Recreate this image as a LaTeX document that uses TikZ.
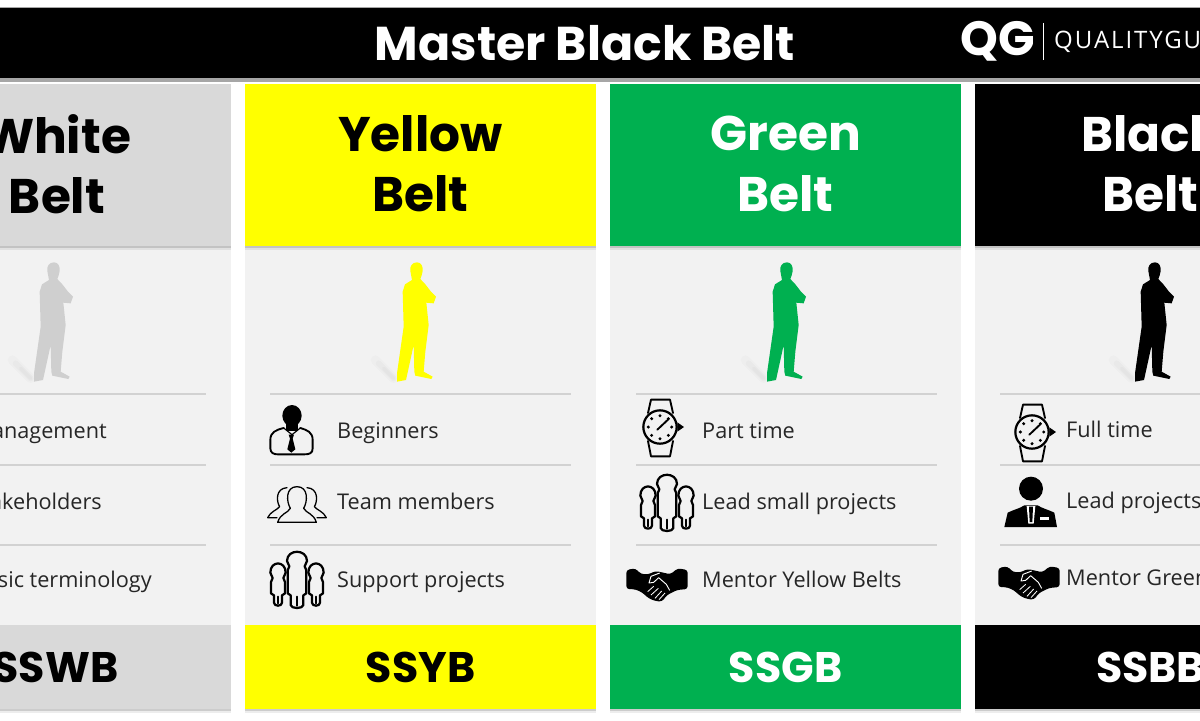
\documentclass[tikz,border=0pt]{standalone}
\usepackage{fontspec}
\setmainfont{Open Sans}
\newfontfamily\headfont{Poppins}
\newfontfamily\logofont[LetterSpace=8]{Open Sans}
\usepackage{xcolor}
\usetikzlibrary{shadows}
\definecolor{beltwhite}{HTML}{D9D9D9}
\definecolor{beltyellow}{HTML}{FFFF00}
\definecolor{beltgreen}{HTML}{00B050}
\definecolor{panel}{HTML}{F2F2F2}
\definecolor{rulegray}{HTML}{D2D2D2}
\definecolor{manwhite}{HTML}{CFCFCF}
\definecolor{bodytext}{HTML}{262626}

\begin{document}
\begin{tikzpicture}[x=0.03cm,y=-0.03cm]

\tikzstyle{softshadow}=[drop shadow={shadow xshift=0pt,shadow yshift=-3.5pt,opacity=.14},
  drop shadow={shadow xshift=0pt,shadow yshift=-1.6pt,opacity=.3}]
\tikzstyle{headbox}=[minimum width=10.53cm,minimum height=4.86cm,inner sep=0,softshadow]
\tikzstyle{headtext}=[inner sep=0,align=center,font=\headfont\bfseries\fontsize{41.5}{51.5}\selectfont]
\tikzstyle{footbox}=[minimum width=10.53cm,minimum height=2.52cm,inner sep=0,
  font=\headfont\bfseries\fontsize{36.5}{38}\selectfont,softshadow]
\tikzstyle{bodybox}=[fill=panel,minimum width=10.53cm,minimum height=11.4cm,inner sep=0]
\tikzstyle{rowtext}=[text=bodytext,inner sep=0,font=\fontsize{18.5}{22}\selectfont]
\tikzstyle{divider}=[rulegray,line width=1.4pt]
\tikzstyle{iconline}=[line width=1.6pt,line join=round,line cap=round]

\def\figman#1#2{\begin{scope}[shift={(#1,275)},scale=1/3]
  \draw[black,opacity=.015,line width=8pt,line cap=round] (-125,255) -- (-70,310);
  \draw[black,opacity=.02,line width=5pt,line cap=round] (-115,265) -- (-70,310);
  \draw[black,opacity=.02,line width=3pt,line cap=round] (-100,280) -- (-70,310);
  \fill[#2] (0,-38) .. controls (14,-38) and (18,-24) .. (17,-12) .. controls (16,-2) and (12,6) .. (10,12)
    -- (25,28) -- (42,50) -- (57,65) -- (50,85) -- (28,83) -- (35,150) -- (25,230) -- (20,290)
    -- (47,305) -- (43,312) -- (-5,302) -- (-8,290) -- (-10,210) -- (-33,315) -- (-60,320)
    -- (-60,295) -- (-40,155) -- (-43,50) -- (-36,28) -- (-15,15) -- (-20,-12) .. controls (-22,-26) and (-15,-38) .. (0,-38);
\end{scope}}

\def\iconbeginner#1#2{\begin{scope}[shift={(#1,#2)},scale=1/3]
  \fill (3,-43) ellipse (29 and 32);
  \fill (-14,-25) rectangle (20,2);
  \draw[iconline] (-22,-6) .. controls (-45,0) and (-62,6) .. (-62,30) -- (-62,55) .. controls (-62,70) and (-50,73) .. (-40,73)
    -- (40,73) .. controls (55,73) and (65,70) .. (65,55) -- (65,30) .. controls (65,6) and (48,0) .. (28,-6);
  \draw[iconline,line width=1pt] (-22,-6) -- (3,14) -- (28,-6);
  \fill (-7,14) -- (9,14) -- (5,26) -- (13,58) -- (1,68) -- (-11,58) -- (-3,26) -- cycle;
\end{scope}}

\def\iconteam#1#2{\begin{scope}[shift={(#1,#2)},scale=1/3]
  \draw[iconline,line width=1.1pt] (-58,52) .. controls (-50,25) and (-28,25) .. (-20,10) .. controls (-32,-10) and (-35,-55) .. (0,-55)
    .. controls (35,-55) and (32,-10) .. (20,10) .. controls (28,25) and (50,25) .. (58,52) -- cycle;
  \draw[iconline,line width=1.1pt] (-60,38) -- (-88,38) .. controls (-80,20) and (-60,15) .. (-52,5) .. controls (-62,-10) and (-65,-50) .. (-30,-52);
  \draw[iconline,line width=1.1pt] (60,38) -- (88,38) .. controls (80,20) and (60,15) .. (52,5) .. controls (62,-10) and (65,-50) .. (30,-52);
\end{scope}}

\def\onemember#1#2#3#4{\draw[iconline,line width=1.9pt,fill=panel] (#1-#2,#3+28) .. controls (#1-#2,#3-9) and (#1+#2,#3-9) .. (#1+#2,#3+28)
    -- (#1+#2-7,#3+44) -- (#1+#2-2,#3+56) -- (#1+#2-2,40) -- (#1+#2-11,46) -- (#1+#2-11,#4-10) .. controls (#1+#2-11,#4+2) and (#1-#2+11,#4+2) .. (#1-#2+11,#4-10)
    -- (#1-#2+11,46) -- (#1-#2+2,40) -- (#1-#2+2,#3+56) -- (#1-#2+7,#3+44) -- cycle;
  \draw[iconline,line width=1.9pt] (#1,50) -- (#1,#4-8);}

\def\icongroup#1#2{\begin{scope}[shift={(#1,#2)},scale=1/3]
  \onemember{-57}{23}{-50}{78}
  \onemember{57}{23}{-50}{78}
  \onemember{0}{30}{-85}{85}
\end{scope}}

\def\iconwatch#1#2{\begin{scope}[shift={(#1,#2)},scale=1/3]
  \draw[iconline] (-36,-42) -- (-27,-82) -- (30,-82) -- (39,-42);
  \draw[iconline] (-36,42) -- (-27,88) -- (30,88) -- (39,42);
  \draw[iconline,fill=panel,line width=1.9pt] (0,0) circle (50);
  \fill (52,-14) -- (72,0) -- (52,14) -- cycle;
  \fill (0,-34) circle (5) (25,-25) circle (5) (35,0) circle (5) (25,25) circle (5)
    (0,35) circle (5) (-25,25) circle (5) (-35,0) circle (5) (-25,-25) circle (5);
  \draw[iconline] (-8,8) -- (26,-24);
\end{scope}}

\def\iconshake#1#2{\begin{scope}[shift={(#1,#2)},scale=1/3]
  \fill[rounded corners=2.5pt] (-92,-45) -- (-65,-50) -- (-48,-33) -- (-25,-32) -- (-5,-42) -- (15,-38) -- (40,-32) -- (62,-50) -- (92,-45)
    -- (92,12) -- (60,15) -- (30,30) -- (15,50) -- (-5,48) -- (-25,40) -- (-45,22) -- (-65,13) -- (-92,12) -- cycle;
  \draw[white,line width=.8pt,line join=round] (8,-36) -- (-18,-26) -- (-24,-6) -- (-10,-8) -- (5,-22) -- (28,-2) -- (38,16);
  \draw[white,line width=.7pt] (-28,20) -- (-10,4) (-18,30) -- (4,10) (-6,40) -- (14,18) (6,44) -- (24,24);
\end{scope}}

\def\iconsuit#1#2{\begin{scope}[shift={(#1,#2)},scale=1/3]
  \fill (0,-40) circle (36);
  \fill (-80,75) -- (-70,32) .. controls (-50,22) and (-35,20) .. (-20,10) -- (20,10) .. controls (35,20) and (50,22) .. (70,32) -- (78,75) -- cycle;
  \fill[white] (-13,12) -- (13,12) -- (8,65) -- (-8,65) -- cycle;
  \fill (-6,14) -- (6,14) -- (4,60) -- (-4,60) -- cycle;
  \fill[white] (28,46) rectangle (54,54);
\end{scope}}

\useasboundingbox (0,0) rectangle (1200,720);
\clip (0,0) rectangle (1200,720);

% title bar
\fill[black!35] (0,6.5) rectangle (1200,82);
\node (titlebar) at (600,43) [fill=black,minimum width=36cm,minimum height=2.1cm,inner sep=0] {};
\node (title) at (585,43) [text=white,inner sep=0,font=\headfont\bfseries\fontsize{40.5}{44}\selectfont] {Master Black Belt};
\node (logomark) at (998,41) [text=white,inner sep=0,font=\headfont\bfseries\fontsize{41}{44}\selectfont] {QG};
\node (logotop) at (1043,22) [inner sep=0] {};
\node (logobot) at (1043,61) [inner sep=0] {};
\draw[white,line width=.6pt] (logotop) -- (logobot);
\node (logotext) at (1054,41.5) [anchor=west,text=white,inner sep=0,font=\logofont\fontsize{20.5}{24}\selectfont] {QUALITYGU};

% panels
\node (whitebody) at (55.5,435) [bodybox] {};
\node (yellowbody) at (420.5,435) [bodybox] {};
\node (greenbody) at (785.5,435) [bodybox] {};
\node (blackbody) at (1150.5,435) [bodybox] {};

\figman{54}{manwhite}
\figman{417}{beltyellow}
\figman{787}{beltgreen}
\figman{1155}{black}

% heads
\node (whitehead) at (55.5,165) [headbox,fill=beltwhite] {};
\node (yellowhead) at (420.5,165) [headbox,fill=beltyellow] {};
\node (greenhead) at (785.5,165) [headbox,fill=beltgreen] {};
\node (blackhead) at (1150.5,165) [headbox,fill=black] {};
\node (whitename) at (57,164) [headtext] {White\\Belt};
\node (yellowname) at (420.5,164) [headtext] {Yellow\\Belt};
\node (greenname) at (785.5,164) [headtext,text=white] {Green\\Belt};
\node (blackname) at (1150.5,164) [headtext,text=white] {Black\\Belt};

% feet
\node (whitefoot) at (55.5,667) [footbox,fill=beltwhite] {SSWB};
\node (yellowfoot) at (420.5,667) [footbox,fill=beltyellow] {SSYB};
\node (greenfoot) at (785.5,667) [footbox,fill=beltgreen,text=white] {SSGB};
\node (blackfoot) at (1150.5,667) [footbox,fill=black,text=white] {SSBB};

% dividers
\draw[divider] (0,394) -- (206,394) (0,465) -- (206,465) (0,545) -- (206,545);
\draw[divider] (270,394) -- (571,394) (270,465) -- (571,465) (270,545) -- (571,545);
\draw[divider] (636,394) -- (937,394) (636,465) -- (937,465) (636,545) -- (937,545);
\draw[divider] (1000,394) -- (1200,394) (1000,465) -- (1200,465) (1000,545) -- (1200,545);

% rows
\node (whiterow1) at (107,438) [rowtext,anchor=base east] {anagement};
\node (whiterow2) at (102,509) [rowtext,anchor=base east] {akeholders};
\node (whiterow3) at (152,587) [rowtext,anchor=base east] {sic terminology};

\iconbeginner{291}{430}
\iconteam{297}{505}
\icongroup{297}{580}
\node (yellowrow1) at (337,438) [rowtext,anchor=base west] {Beginners};
\node (yellowrow2) at (337,509) [rowtext,anchor=base west] {Team members};
\node (yellowrow3) at (337,587) [rowtext,anchor=base west] {Support projects};

\iconwatch{660}{427}
\icongroup{667}{503}
\iconshake{657}{585}
\node (greenrow1) at (702,438) [rowtext,anchor=base west] {Part time};
\node (greenrow2) at (702,509) [rowtext,anchor=base west] {Lead small projects};
\node (greenrow3) at (702,587) [rowtext,anchor=base west] {Mentor Yellow Belts};

\iconwatch{1032}{432}
\iconsuit{1031}{502}
\iconshake{1029}{583}
\node (blackrow1) at (1066,437) [rowtext,anchor=base west] {Full time};
\node (blackrow2) at (1066,508) [rowtext,anchor=base west] {Lead projects};
\node (blackrow3) at (1066,585) [rowtext,anchor=base west] {Mentor Green};
\end{tikzpicture}
\end{document}
